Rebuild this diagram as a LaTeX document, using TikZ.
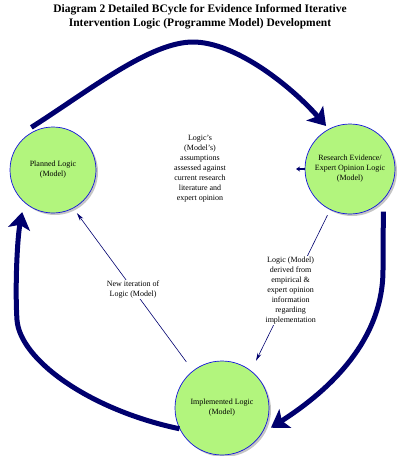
\documentclass[tikz,border=0pt]{standalone}
\usepackage{fontspec}
\setmainfont{Liberation Serif}
\usetikzlibrary{arrows.meta,shadows}
\definecolor{cyclenavy}{RGB}{0,0,110}
\definecolor{logicgreen}{RGB}{178,245,125}
\definecolor{logicblue}{RGB}{20,20,220}
\tikzstyle{logic} = [circle, inner sep=0pt, text centered, align=center, draw = logicblue, line width=0.7pt, fill = logicgreen, font=\fontsize{8}{10}\selectfont, drop shadow={shadow xshift=2pt, shadow yshift=-2pt, fill=gray!90}]
\tikzstyle{remark} = [align=center, fill=white, inner sep=1pt, font=\fontsize{8}{10}\selectfont]
\tikzstyle{cyclearrow} = [line width=5pt, draw=cyclenavy, -{Stealth[length=17pt,width=22pt,inset=4pt]}]
\tikzstyle{feedarrow} = [line width=0.6pt, draw=cyclenavy, -{Stealth[length=8pt,width=4pt]}]
\tikzstyle{stubarrow} = [line width=2pt, draw=cyclenavy, -{Stealth[length=4pt,width=5pt]}]

\begin{document}
\begin{tikzpicture}[x=1pt, y=-1pt]
\useasboundingbox (0,0) rectangle (410,456);

\node(title) [font=\bfseries\fontsize{11.5}{14}\selectfont, align=center] at (200,17) {Diagram 2 Detailed BCycle for Evidence Informed Iterative\\ Intervention Logic (Programme Model) Development};
\node(planned) [logic, minimum size=86pt] at (53,170) {Planned Logic\\ (Model)};
\node(research) [logic, minimum size=90pt] at (350,169) {Research Evidence/\\ Expert Opinion Logic\\ (Model)};
\node(implemented) [logic, minimum size=94pt] at (222,408) {Implemented Logic\\ (Model)};
\node(assessed) [remark] at (200,169) {Logic's\\ (Model's)\\ assumptions\\ assessed against\\ current research\\ literature and\\ expert opinion};
\coordinate(stubend) at (296,169);

\draw [cyclearrow, shorten >=4pt] ([shift={(-2,-4)}]planned.117) .. controls (90,90) and (150,42) .. (193,42) .. controls (235,42) and (290,85) .. (research.118);
\draw [cyclearrow] ([shift={(3,9)}]research.-48) -- (383,270) .. controls (383,340) and (330,390) .. ([shift={(5,2)}]implemented.-22);
\draw [cyclearrow, shorten >=10pt] (implemented.206) .. controls (90,410) and (20,360) .. (17,320) .. controls (15,290) and (17,240) .. (planned.228);

\draw [feedarrow, shorten <=11pt, shorten >=6pt] (implemented.128) -- node[remark]{New iteration of\\ Logic (Model)} (planned.298);
\draw [feedarrow, shorten <=6pt, shorten >=11pt] (research.244) -- node[remark]{Logic (Model)\\ derived from\\ empirical \&\\ expert opinion\\ information\\ regarding\\ implementation} (implemented.52);
\draw [stubarrow] (research.west) -- (stubend);

\end{tikzpicture}
\end{document}
